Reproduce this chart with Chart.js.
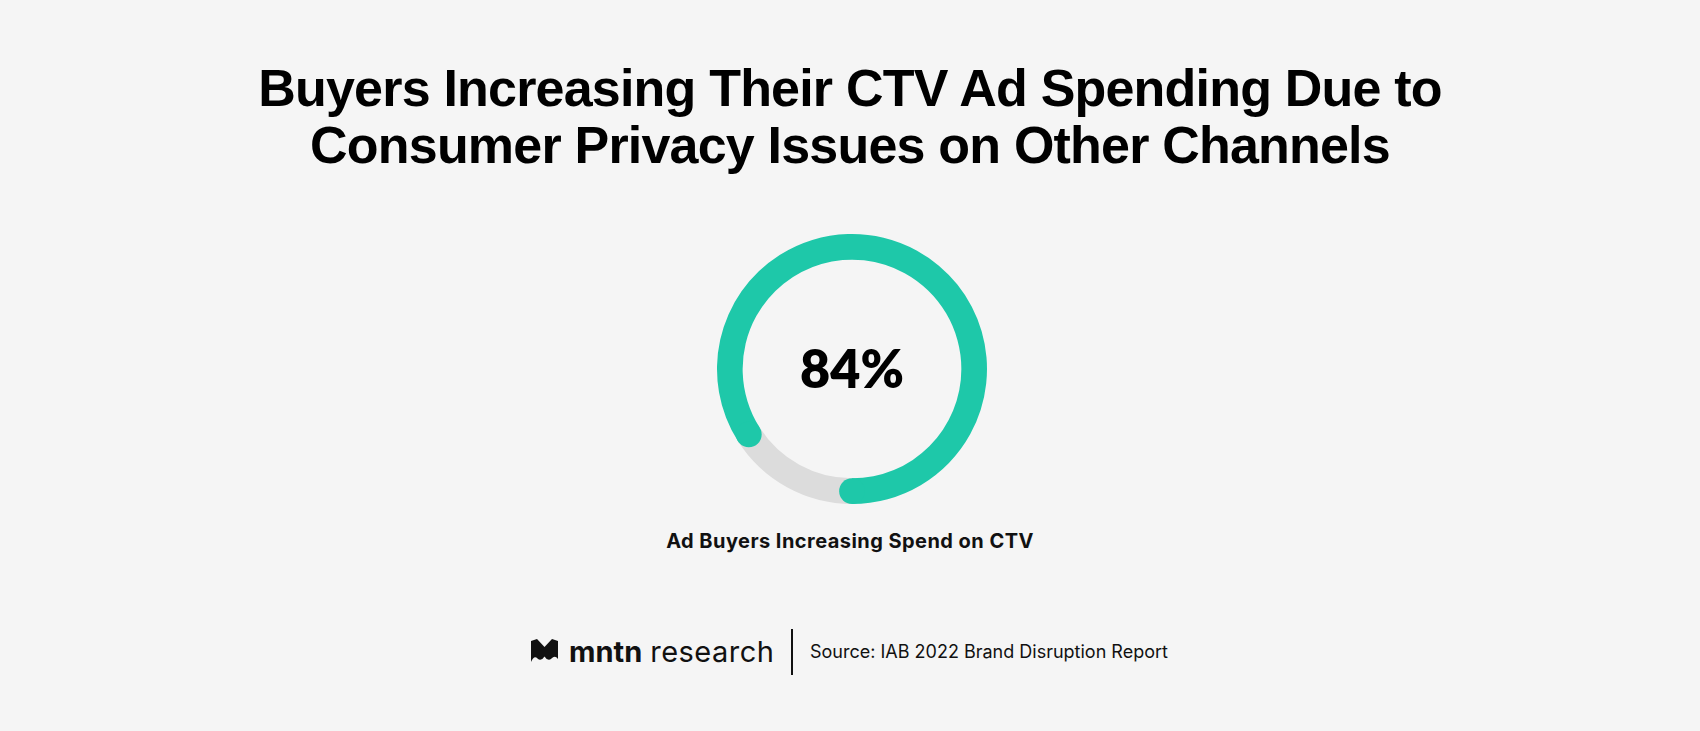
<!DOCTYPE html>
<html>
<head>
<meta charset="utf-8">
<script src="https://cdn.jsdelivr.net/npm/chart.js@4.4.1/dist/chart.umd.min.js"></script>
<style>
  html, body { margin:0; padding:0; background:#f5f5f5; width:1700px; height:731px; overflow:hidden; }
  #title { position:absolute; left:0; width:1700px; top:60px; text-align:center;
    font-family:"Liberation Sans", Arial, sans-serif; font-weight:700; font-size:52px; line-height:56.5px;
    color:#000; letter-spacing:-0.8px; }
  #chartBox { position:absolute; left:712px; top:229px; width:280px; height:280px; }
  #label { position:absolute; left:0; width:1700px; top:528px; text-align:center; line-height:26px;
    font-family:"Inter", sans-serif; font-weight:700; font-size:20px; letter-spacing:0.45px; color:#111; }
  #logo { position:absolute; left:531px; top:634px; height:34px; display:flex; align-items:center;
    font-family:"Inter", sans-serif; font-size:29px; color:#111; }
  #sep { position:absolute; left:791px; top:629px; width:1.5px; height:46px; background:#111; }
  #source { position:absolute; left:810px; top:641px; font-family:"Inter", sans-serif; font-size:18px; color:#111; line-height:22px; }
</style>
</head>
<body>
<div id="title">Buyers Increasing Their CTV Ad Spending Due to<br>Consumer Privacy Issues on Other Channels</div>
<div id="chartBox"><canvas id="c"></canvas></div>
<div id="label"></div>
<div id="logo">
  <svg width="27" height="24" viewBox="0 0 27 24" style="margin-right:11px">
    <path d="M0 2 L6 0 L13.5 8 L21 0 L27 2 L27 20 Q24 16 20.5 19.5 Q17 23 13.5 17.5 Q10 23 6.5 19.5 Q3 16 0 23 Z" fill="#111"/>
  </svg>
  <span style="font-weight:700">mntn</span><span style="font-weight:400; margin-left:8px; letter-spacing:0.5px">research</span>
</div>
<div id="sep"></div>
<div id="source">Source: IAB 2022 Brand Disruption Report</div>
<script>
const categories = ["Not increasing", "Ad Buyers Increasing Spend on CTV"];
const values = [16, 84];
const colors = ["#dcdcdc", "#1ec8a9"];
const centerLabel = values[1] + "%";

document.getElementById("label").textContent = categories[1];

const capsPlugin = {
  id: "caps",
  afterDatasetsDraw(chart) {
    const arc = chart.getDatasetMeta(0).data[1];
    if (!arc) return;
    const ctx = chart.ctx;
    const mid = (arc.outerRadius + arc.innerRadius) / 2;
    const half = (arc.outerRadius - arc.innerRadius) / 2;
    ctx.save();
    ctx.fillStyle = colors[1];
    [arc.startAngle, arc.endAngle].forEach(a => {
      ctx.beginPath();
      ctx.arc(arc.x + Math.cos(a) * mid, arc.y + Math.sin(a) * mid, half, 0, Math.PI * 2);
      ctx.fill();
    });
    ctx.font = "800 52px Lato, sans-serif";
    ctx.fillStyle = "#000";
    ctx.textAlign = "center";
    ctx.textBaseline = "middle";
    ctx.fillText(centerLabel, arc.x, arc.y + 2);
    ctx.restore();
  }
};

new Chart(document.getElementById("c"), {
  type: "doughnut",
  data: {
    labels: categories,
    datasets: [{
      data: values,
      backgroundColor: colors,
      borderWidth: 0
    }]
  },
  options: {
    responsive: true,
    maintainAspectRatio: false,
    animation: false,
    rotation: 180,
    cutout: "81%",
    layout: { padding: 5 },
    plugins: { legend: { display: false }, tooltip: { enabled: false }, title: { display: false } }
  },
  plugins: [capsPlugin]
});
</script>
</body>
</html>
